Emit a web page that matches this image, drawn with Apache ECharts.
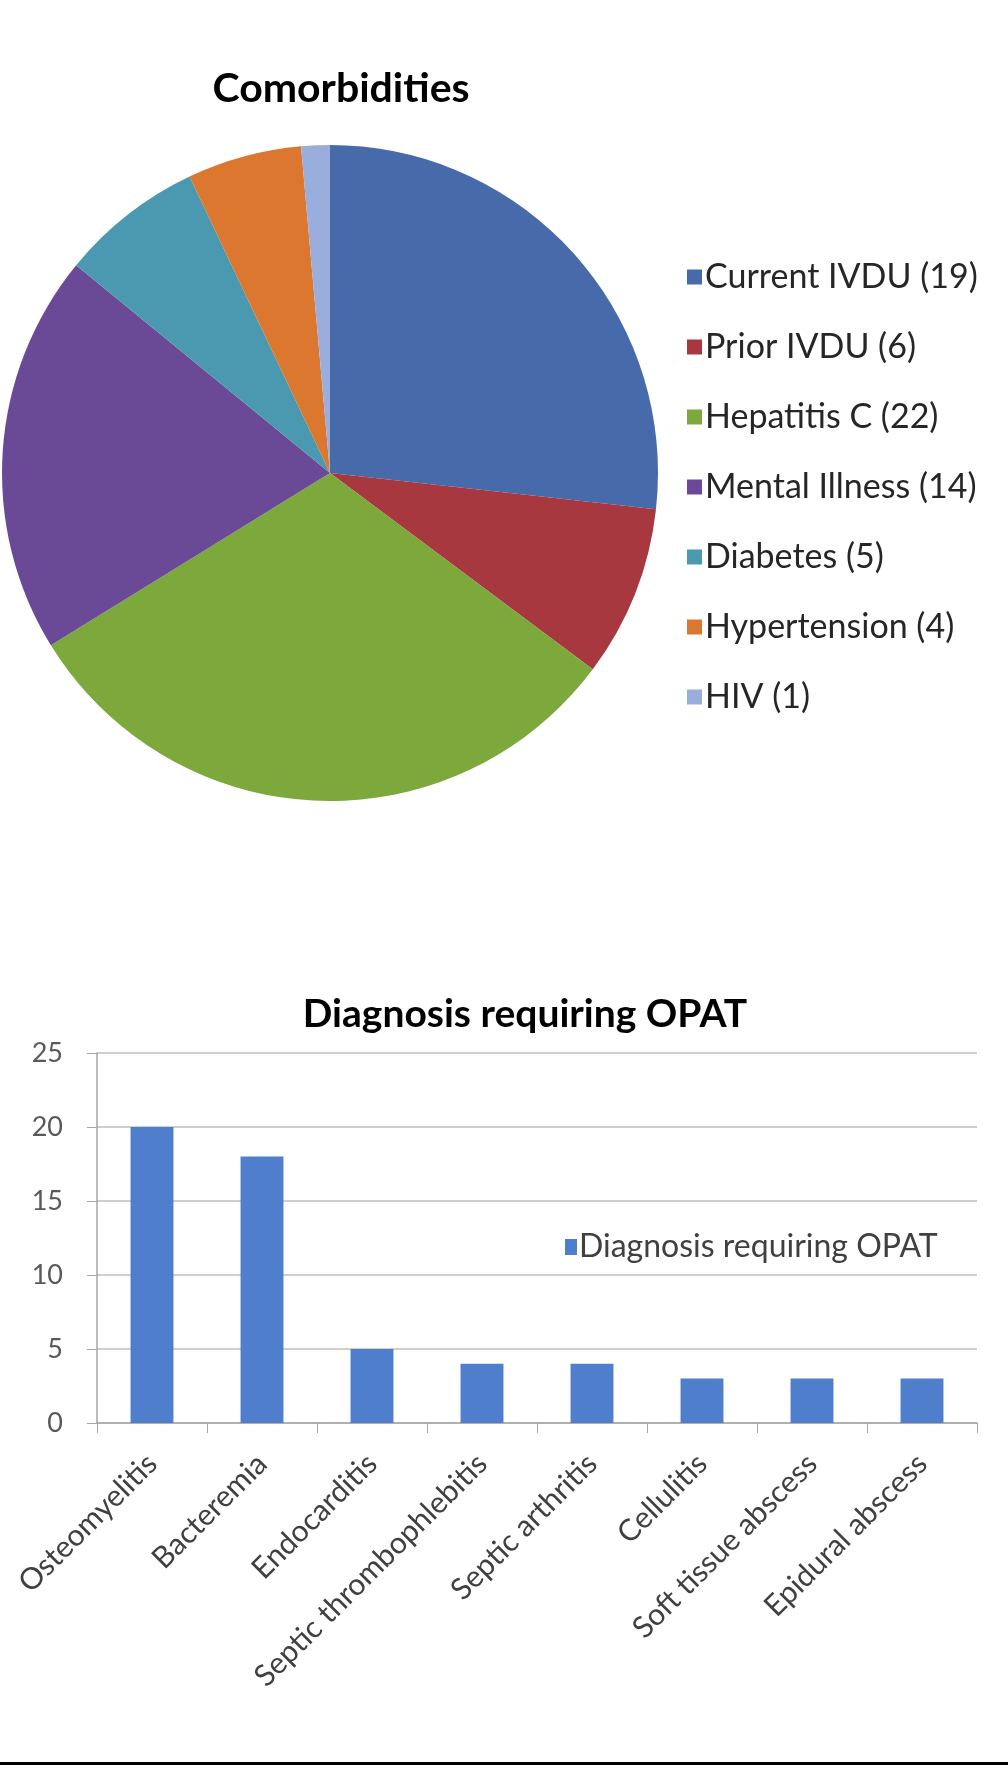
<!DOCTYPE html>
<html>
<head>
<meta charset="utf-8">
<script src="https://cdn.jsdelivr.net/npm/echarts@6/dist/echarts.min.js"></script>
<style>
  html, body { margin: 0; padding: 0; background: #fff; }
  #chart { width: 1008px; height: 1777px; }
</style>
</head>
<body>
<div id="chart"></div>
<script>
// comorbidities pie
const pieNames = ["Current IVDU", "Prior IVDU", "Hepatitis C", "Mental Illness", "Diabetes", "Hypertension", "HIV"];
const pieValues = [19, 6, 22, 14, 5, 4, 1];
const pieColors = ["#466aaa", "#a8383f", "#7da83c", "#6a4a96", "#4b99b1", "#db772f", "#9aaedd"];

// diagnosis bar chart
const diagnoses = ["Osteomyelitis", "Bacteremia", "Endocarditis", "Septic thrombophlebitis", "Septic arthritis", "Cellulitis", "Soft tissue abscess", "Epidural abscess"];
const diagnosisCounts = [20, 18, 5, 4, 4, 3, 3, 3];
const yTicks = [0, 5, 10, 15, 20, 25];

const font = "Lato, 'Open Sans', sans-serif";
const pieData = pieNames.map((n, i) => ({
  name: n + " (" + pieValues[i] + ")",
  value: pieValues[i],
  itemStyle: { color: pieColors[i] },
}));

const chart = echarts.init(document.getElementById("chart"));
chart.setOption({
  animation: false,
  backgroundColor: "#fff",
  textStyle: { fontFamily: font },
  title: [
    {
      text: "Comorbidities",
      left: 336, top: 63, textAlign: "center",
      textStyle: { fontFamily: font, fontSize: 41, fontWeight: "bold", color: "#000" },
    },
    {
      text: "Diagnosis requiring OPAT",
      left: 520, top: 990, textAlign: "center",
      textStyle: { fontFamily: font, fontSize: 39, fontWeight: "bold", color: "#000" },
    },
  ],
  legend: [
    {
      orient: "vertical",
      left: 687, top: 260, padding: 0,
      itemWidth: 15, itemHeight: 15, itemGap: 36,
      icon: "rect",
      data: pieData.map(d => d.name),
      textStyle: { fontFamily: font, fontSize: 34, lineHeight: 34, color: "#262626", padding: [0, 0, 0, -2] },
    },
    {
      left: 565, top: 1231, padding: 0,
      itemWidth: 12, itemHeight: 16,
      icon: "rect",
      data: ["Diagnosis requiring OPAT"],
      textStyle: { fontFamily: font, fontSize: 32, lineHeight: 32, color: "#404040", padding: [0, 0, 0, -3] },
    },
  ],
  grid: { left: 97, right: 31, top: 1053, bottom: 354 },
  xAxis: {
    type: "category",
    data: diagnoses,
    axisLine: { lineStyle: { color: "#a6a6a6", width: 1.5 } },
    axisTick: { show: true, length: 10, lineStyle: { color: "#a6a6a6" } },
    axisLabel: { interval: 0, rotate: 45, margin: 36, fontFamily: font, fontSize: 30, color: "#404040" },
  },
  yAxis: {
    type: "value",
    min: yTicks[0],
    max: yTicks[yTicks.length - 1],
    interval: 5,
    axisLine: { show: true, lineStyle: { color: "#a6a6a6", width: 1.5 } },
    axisTick: { show: true, length: 10, lineStyle: { color: "#a6a6a6" } },
    axisLabel: { margin: 34, fontFamily: font, fontSize: 27, color: "#595959" },
    splitLine: { lineStyle: { color: "#bfbfbf", width: 1.5 } },
  },
  series: [
    {
      type: "pie",
      center: [330, 473],
      radius: 328,
      startAngle: 90,
      label: { show: false },
      labelLine: { show: false },
      emphasis: { disabled: true },
      data: pieData,
    },
    {
      name: "Diagnosis requiring OPAT",
      type: "bar",
      data: diagnosisCounts,
      barWidth: "39%",
      itemStyle: { color: "#4f7fcc" },
    },
  ],
  graphic: [
    { type: "rect", left: 0, top: 1762, shape: { width: 1008, height: 3 }, style: { fill: "#000" } },
  ],
});
</script>
</body>
</html>
